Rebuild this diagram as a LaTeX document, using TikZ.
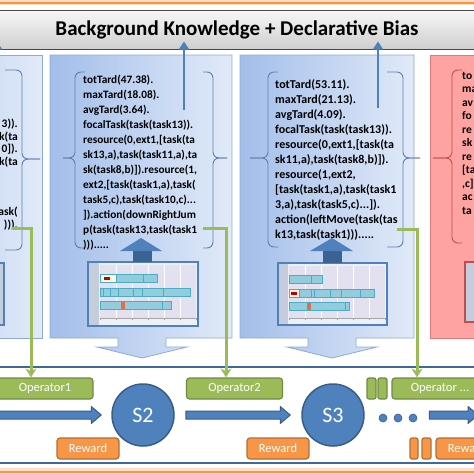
\documentclass[tikz,border=0pt]{standalone}
\usepackage{fontspec}
\setmainfont{Carlito}
\usepackage{tikz}
\usetikzlibrary{arrows.meta,positioning,calc}

\definecolor{kbblue}{HTML}{4F81BD}
\definecolor{kbdark}{HTML}{385D8A}
\definecolor{panL}{HTML}{A3BEEA}
\definecolor{panR}{HTML}{E1EAF8}
\definecolor{panE}{HTML}{8FAAD2}
\definecolor{brc}{HTML}{5F7FAE}
\definecolor{redP}{HTML}{FFA2A2}
\definecolor{redE}{HTML}{E07A7A}
\definecolor{redB}{HTML}{C0504D}
\definecolor{opgreen}{HTML}{9BBB59}
\definecolor{opdark}{HTML}{71893F}
\definecolor{rworange}{HTML}{F79646}
\definecolor{rwdark}{HTML}{B66D31}
\definecolor{segcyan}{HTML}{93CDDD}
\definecolor{segedge}{HTML}{4BACC6}
\definecolor{chbg}{HTML}{EEF0F8}
\definecolor{chstrip}{HTML}{C5CDDC}
\definecolor{chplot}{HTML}{E3E1F0}
\definecolor{paleY}{HTML}{FFF7DE}
\definecolor{redmark}{HTML}{C00000}
\definecolor{orgmark}{HTML}{E0704A}
\definecolor{hblue}{HTML}{3E68A2}

\begin{document}
\begin{tikzpicture}[
x=1pt, y=-1pt,
titlebar/.style={
    rectangle, draw=gray!55!black, line width=1pt,
    minimum width=484pt,
    minimum height=39pt,
    top color=gray!6, bottom color=gray!38,
    font=\fontsize{21}{24}\selectfont\bfseries
},
panel/.style={draw=panE, line width=0.8pt, left color=panL, right color=panR},
redpanel/.style={draw=redE, line width=0.8pt, fill=redP},
kbtext/.style={align=left, inner sep=0pt, anchor=north west,
    font=\fontsize{12}{15}\selectfont\bfseries},
brace/.style={draw=brc, line width=0.9pt, rounded corners=6pt},
uparr/.style={draw=kbblue, line width=2pt, -{Triangle[length=8pt,width=10pt]}, shorten >=-8pt},
grn/.style={draw=opgreen, line width=3pt, -{Stealth[length=9pt,width=11pt]}},
hline/.style={draw=hblue, line width=1.5pt},
opbox/.style={
    rectangle, rounded corners=3pt,
    fill=opgreen, draw=opdark, line width=1.2pt,
    minimum width=96pt, minimum height=21pt,
    text=white, font=\fontsize{12.5}{14}\selectfont
},
rwbox/.style={
    rectangle, rounded corners=3pt,
    fill=rworange, draw=rwdark, line width=1.2pt,
    minimum width=62pt, minimum height=21pt,
    text=white, font=\fontsize{12.5}{14}\selectfont
},
pausebar/.style={rectangle, rounded corners=2pt, line width=1.2pt,
    minimum width=9pt, minimum height=21pt, inner sep=0pt},
stnode/.style={
    circle, fill=kbblue, draw=kbdark, line width=1.5pt,
    minimum size=62pt, inner sep=0pt,
    text=white, font=\fontsize{22}{24}\selectfont
},
dotnode/.style={circle, fill=kbblue, draw=kbdark, line width=0.6pt, minimum size=8pt, inner sep=0pt},
blk/.style={fill=kbblue, draw=kbdark, line width=1pt, line join=round},
chartframe/.style={fill=chbg, draw=kbblue, line width=2pt},
gridl/.style={draw=white, line width=0.6pt},
axisl/.style={draw=gray!70, line width=0.5pt},
seg/.style={fill=segcyan, draw=segedge, line width=0.5pt},
palebox/.style={fill=paleY, draw=segedge, line width=0.5pt},
uparrow/.style={fill=kbblue},
upshaft/.style={fill=kbdark!85!kbblue}
]
\useasboundingbox (0,0) rectangle (474,474);
\clip (0,0) rectangle (474,474);
\fill[white] (0,0) rectangle (474,474);

% orange bands
\fill[rworange!30] (0,0) rectangle (474,5);
\draw[rworange, line width=2pt] (0,2.5) -- (474,2.5);
\fill[rworange!30] (0,468) rectangle (474,474);
\draw[rworange, line width=2.5pt] (0,472) -- (474,472);

% title
\node[titlebar] (bk) at (237,29.5) {Background Knowledge + Declarative Bias};

% panels
\draw[panel] (-150,55) rectangle (42,338);
\draw[panel] (50,55) -- (232,55) -- (232,338) -- (166,338) -- (166,347) -- (187,347)
    -- (142,358) -- (97,347) -- (118,347) -- (118,338) -- (50,338) -- cycle;
\draw[panel] (240,55) -- (414,55) -- (414,338) -- (356,338) -- (356,347) -- (377,347)
    -- (332,358) -- (287,347) -- (308,347) -- (308,338) -- (240,338) -- cycle;
\draw[redpanel] (430,55) rectangle (520,338);

% charts
\draw[chartframe, fill=chstrip] (-100,263) rectangle (4,325);
\draw[chartframe, draw=redB, fill=chstrip] (465,262) rectangle (530,322);

\begin{scope}[shift={(88,262)}]
\draw[chartframe] (0,0) rectangle (110,64);
\fill[chstrip] (1,1) rectangle (11,63);
\fill[chplot] (12,3) rectangle (108,56);
\foreach \g in {28,44,60,76,92} \draw[gridl] (\g,3) -- (\g,56);
\draw[axisl] (12,56) -- (108,56);
\foreach \g in {12,28,...,108} \draw[axisl] (\g,56) -- (\g,58);
\draw[palebox] (12,12) rectangle (28,20);
\fill[redmark] (16,14.5) rectangle (22,17.5);
\foreach \a/\b in {28/55,55/69} \draw[seg] (\a,12) rectangle (\b,20);
\foreach \a/\b in {12/15,15/22,22/30,30/45,45/54,54/75,75/102} \draw[seg] (\a,26) rectangle (\b,34);
\foreach \a/\b in {12/33,33/74,74/83} \draw[seg] (\a,39) rectangle (\b,47);
\fill[orgmark] (33,39.5) rectangle (37,46.5);
\end{scope}

\begin{scope}[shift={(278,263)}]
\draw[chartframe] (0,0) rectangle (109,62);
\fill[chstrip] (1,1) rectangle (10,61);
\fill[chplot] (11,3) rectangle (107,55);
\foreach \g in {27,43,59,75,91} \draw[gridl] (\g,3) -- (\g,55);
\draw[axisl] (11,55) -- (107,55);
\foreach \g in {11,27,...,107} \draw[axisl] (\g,55) -- (\g,57);
\foreach \a/\b in {11/33,33/44} \draw[seg] (\a,12) rectangle (\b,20);
\draw[palebox] (11,26) rectangle (21,34);
\fill[redmark] (13,28.5) rectangle (19,31.5);
\foreach \a/\b in {21/33,33/36,36/52,52/63,63/82,82/96} \draw[seg] (\a,26) rectangle (\b,34);
\foreach \a/\b in {11/29,29/67,67/71} \draw[seg] (\a,39) rectangle (\b,47);
\fill[orgmark] (29,39.5) rectangle (33,46.5);
\end{scope}

% chart to text arrows
\fill[upshaft] (133,250) rectangle (152,262);
\fill[uparrow] (120,251) -- (162,251) -- (141,238) -- cycle;
\fill[upshaft] (323,250) rectangle (342,263);
\fill[uparrow] (310,251) -- (353,251) -- (332,238) -- cycle;

% braces
\draw[brace] (5,70) -- (22,70) -- (22,159) -- (40,159);
\draw[brace] (40,159) -- (22,159) -- (22,250) -- (5,250);
\draw[brace] (85,72) -- (75,72) -- (75,158) -- (63,158);
\draw[brace] (63,158) -- (75,158) -- (75,248) -- (85,248);
\draw[brace] (203,72) -- (213,72) -- (213,158) -- (227,158);
\draw[brace] (227,158) -- (213,158) -- (213,248) -- (203,248);
\draw[brace] (278,72) -- (268,72) -- (268,158) -- (250,158);
\draw[brace] (250,158) -- (268,158) -- (268,247) -- (278,247);
\draw[brace] (387,72) -- (403,72) -- (403,158) -- (420,158);
\draw[brace] (420,158) -- (403,158) -- (403,247) -- (387,247);
\draw[brace, draw=redB] (462,70) -- (452,70) -- (452,158) -- (433,158);
\draw[brace, draw=redB] (433,158) -- (452,158) -- (452,243) -- (462,243);

% panel texts
\node[kbtext, align=right, anchor=north east, font=\fontsize{11.5}{12.6}\selectfont\bfseries]
    (txtA) at (18,119) {3)).\\k(ta\\0]).\\k(ta\\\mbox{}\\\mbox{}\\\mbox{}\\ask(\\))).};
\node[kbtext, font=\fontsize{11.3}{15}\selectfont\bfseries] (txtB) at (83,75) {totTard(47.38).\\
maxTard(18.08).\\
avgTard(3.64).\\
focalTask(task(task13)).\\
resource(0,ext1,[task(ta\\
sk13,a),task(task11,a),ta\\
sk(task8,b)]).resource(1,\\
ext2,[task(task1,a),task(\\
task5,c),task(task10,c)...\\
]).action(downRightJum\\
p(task(task13,task(task1\\
))).....};
\node[kbtext] (txtC) at (275,79) {totTard(53.11).\\
maxTard(21.13).\\
avgTard(4.09).\\
focalTask(task(task13)).\\
resource(0,ext1,[task(ta\\
sk11,a),task(task8,b)]).\\
resource(1,ext2,\\
{}[task(task1,a),task(task1\\
3,a),task(task5,c)...]).\\
action(leftMove(task(tas\\
k13,task(task1))).....};
\node[kbtext, font=\fontsize{11.5}{13.5}\selectfont\bfseries] (txtD) at (462,72)
    {to\\ma\\av\\fo\\re\\sk\\re\\{}[ta\\,c]\\ac\\ta};

% up arrows to the title
\coordinate (u1) at (-3,110);
\coordinate (u2) at (184,110);
\coordinate (u3) at (378,108);
\foreach \u in {u1,u2,u3} \draw[uparr] (\u) -- (\u |- bk.south);

% bottom strip
\draw[hline] (0,367) -- (474,367);
\draw[hline] (0,463) -- (474,463);

\node[opbox] (op1) at (45,388.5) {Operator1};
\node[opbox] (op2) at (234.5,388.5) {Operator2};
\node[opbox] (op3) at (440,388.5) {Operator ...};
\node[pausebar, fill=opgreen, draw=opdark] (pg1) at (371.5,388.5) {};
\node[pausebar, fill=opgreen, draw=opdark] (pg2) at (382.5,388.5) {};

\node[stnode] (s2) at (143,415) {S2};
\node[stnode] (s3) at (333,415) {S3};
\foreach \i/\x in {1/383,2/398,3/413} \node[dotnode] (d\i) at (\x,418) {};

\node[rwbox] (rw1) at (88,448.5) {Reward};
\node[rwbox] (rw2) at (278,448.5) {Reward};
\node[rwbox] (rw3) at (467,448.5) {Reward};
\node[pausebar, fill=rworange, draw=rwdark, minimum width=8pt] (po1) at (414,448.5) {};
\node[pausebar, fill=rworange, draw=rwdark] (po2) at (426.5,448.5) {};

% block arrows between states
\coordinate (a1s) at (-5,415);
\coordinate (a1t) at ($(s2.west)+(-10,0)$);
\coordinate (a2s) at ($(s2.east)+(11,0)$);
\coordinate (a2t) at ($(s3.west)+(-11,0)$);
\coordinate (a3s) at ($(d3.east)+(12,-3)$);
\coordinate (a3t) at (478,415);
\foreach \s/\t in {a1s/a1t,a2s/a2t,a3s/a3t}
    \draw[blk] ($(\s)+(0,-4)$) -- ($(\t)+(-10,-4)$) -- ($(\t)+(-10,-8.5)$) -- (\t)
        -- ($(\t)+(-10,8.5)$) -- ($(\t)+(-10,4)$) -- ($(\s)+(0,4)$) -- cycle;

% green links to operators
\coordinate (g1) at (12,228);
\coordinate (k1) at (31,228);
\coordinate (g2) at (203,228);
\coordinate (k2) at (226,228);
\coordinate (g3) at (397,229);
\coordinate (k3) at (417,229);
\draw[grn] (g1) -- (k1) -- (k1 |- op1.north);
\draw[grn] (g2) -- (k2) -- (k2 |- op2.north);
\draw[grn] (g3) -- (k3) -- (k3 |- op3.north);

\end{tikzpicture}
\end{document}
